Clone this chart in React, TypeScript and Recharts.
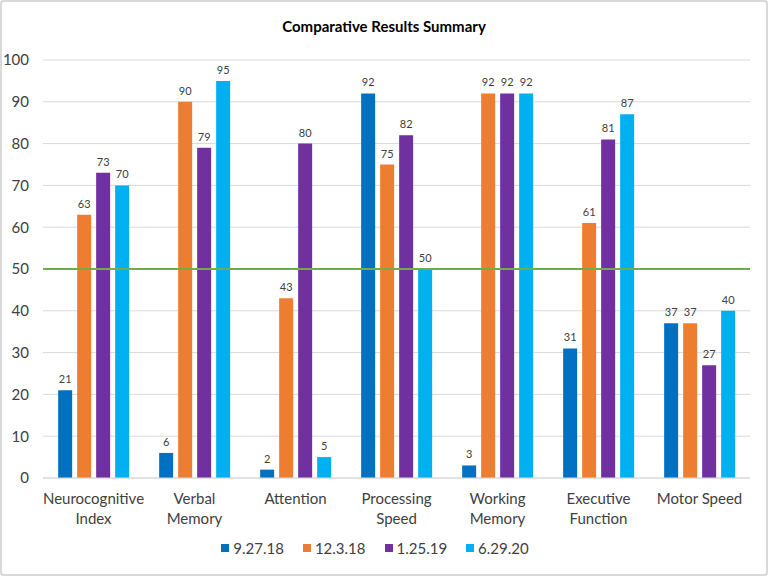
import React from 'react';
import { BarChart, Bar, XAxis, YAxis, CartesianGrid, ReferenceLine, LabelList, Legend } from 'recharts';

const categories = ['Neurocognitive\nIndex', 'Verbal\nMemory', 'Attention', 'Processing\nSpeed', 'Working\nMemory', 'Executive\nFunction', 'Motor Speed'];
const s1 = [21, 6, 2, 92, 3, 31, 37];
const s2 = [63, 90, 43, 75, 92, 61, 37];
const s3 = [73, 79, 80, 82, 92, 81, 27];
const s4 = [70, 95, 5, 50, 92, 87, 40];
const seriesNames = ['9.27.18', '12.3.18', '1.25.19', '6.29.20'];
const colors = ['#0070C0', '#ED7D31', '#7030A0', '#00B0F0'];
const yTicks = [0, 10, 20, 30, 40, 50, 60, 70, 80, 90, 100];
const threshold = 50;

const data = categories.map((c, i) => ({ name: c, a: s1[i], b: s2[i], c: s3[i], d: s4[i] }));
const keys = ['a', 'b', 'c', 'd'];

const FONT = 'Lato, "Liberation Sans", sans-serif';

const XTick = (props: any) => {
  const { x, y, payload } = props;
  const lines = String(payload.value).split('\n');
  return (
    <g transform={`translate(${x},${y})`}>
      {lines.map((l, i) => (
        <text key={i} x={0} y={18 + i * 20} textAnchor="middle" fill="#404040" fontSize={15} fontFamily={FONT}>
          {l}
        </text>
      ))}
    </g>
  );
};

const LegendContent = () => (
  <div style={{ display: 'flex', justifyContent: 'center', fontFamily: FONT, fontSize: 15, color: '#404040' }}>
    {seriesNames.map((n, i) => (
      <div key={n} style={{ display: 'flex', alignItems: 'center', marginRight: i < 3 ? 19 : 0 }}>
        <span style={{ display: 'inline-block', width: 8, height: 8, background: colors[i], marginRight: 4 }} />
        <span>{n}</span>
      </div>
    ))}
  </div>
);

export default function App() {
  return (
    <div style={{ position: 'absolute', left: 0, top: 0, width: 768, height: 576, background: '#fff' }}>
      <div style={{ position: 'absolute', left: 0, top: 0, width: 768, height: 576, boxSizing: 'border-box', border: '2px solid #d9d9d9', borderRadius: 4 }} />
      <div style={{ position: 'absolute', top: 17, left: 0, width: 768, textAlign: 'center', fontFamily: FONT, fontWeight: 'bold', fontSize: 15, color: '#000' }}>
        Comparative Results Summary
      </div>
      <div style={{ position: 'absolute', left: 0, top: 0 }}>
        <BarChart width={768} height={576} data={data} margin={{ top: 60, right: 18, left: 0, bottom: 7 }} barCategoryGap="15%" barGap={5}>
          <CartesianGrid vertical={false} stroke="#d9d9d9" strokeWidth={1} />
          <XAxis dataKey="name" tick={<XTick />} tickLine={false} axisLine={{ stroke: '#d9d9d9' }} height={61} interval={0} />
          <YAxis domain={[0, 100]} ticks={yTicks} width={43} tickLine={false} axisLine={false} tickMargin={8}
            tick={{ fill: '#404040', fontSize: 15, fontFamily: FONT }} />
          <ReferenceLine y={threshold} stroke="#70AD47" strokeWidth={2} />
          <Legend verticalAlign="bottom" height={30} content={<LegendContent />} />
          {keys.map((k, i) => (
            <Bar key={k} dataKey={k} name={seriesNames[i]} fill={colors[i]} isAnimationActive={false}>
              <LabelList dataKey={k} position="top" offset={7} fill="#404040" fontSize={11} fontFamily={FONT} />
            </Bar>
          ))}
        </BarChart>
      </div>
    </div>
  );
}
